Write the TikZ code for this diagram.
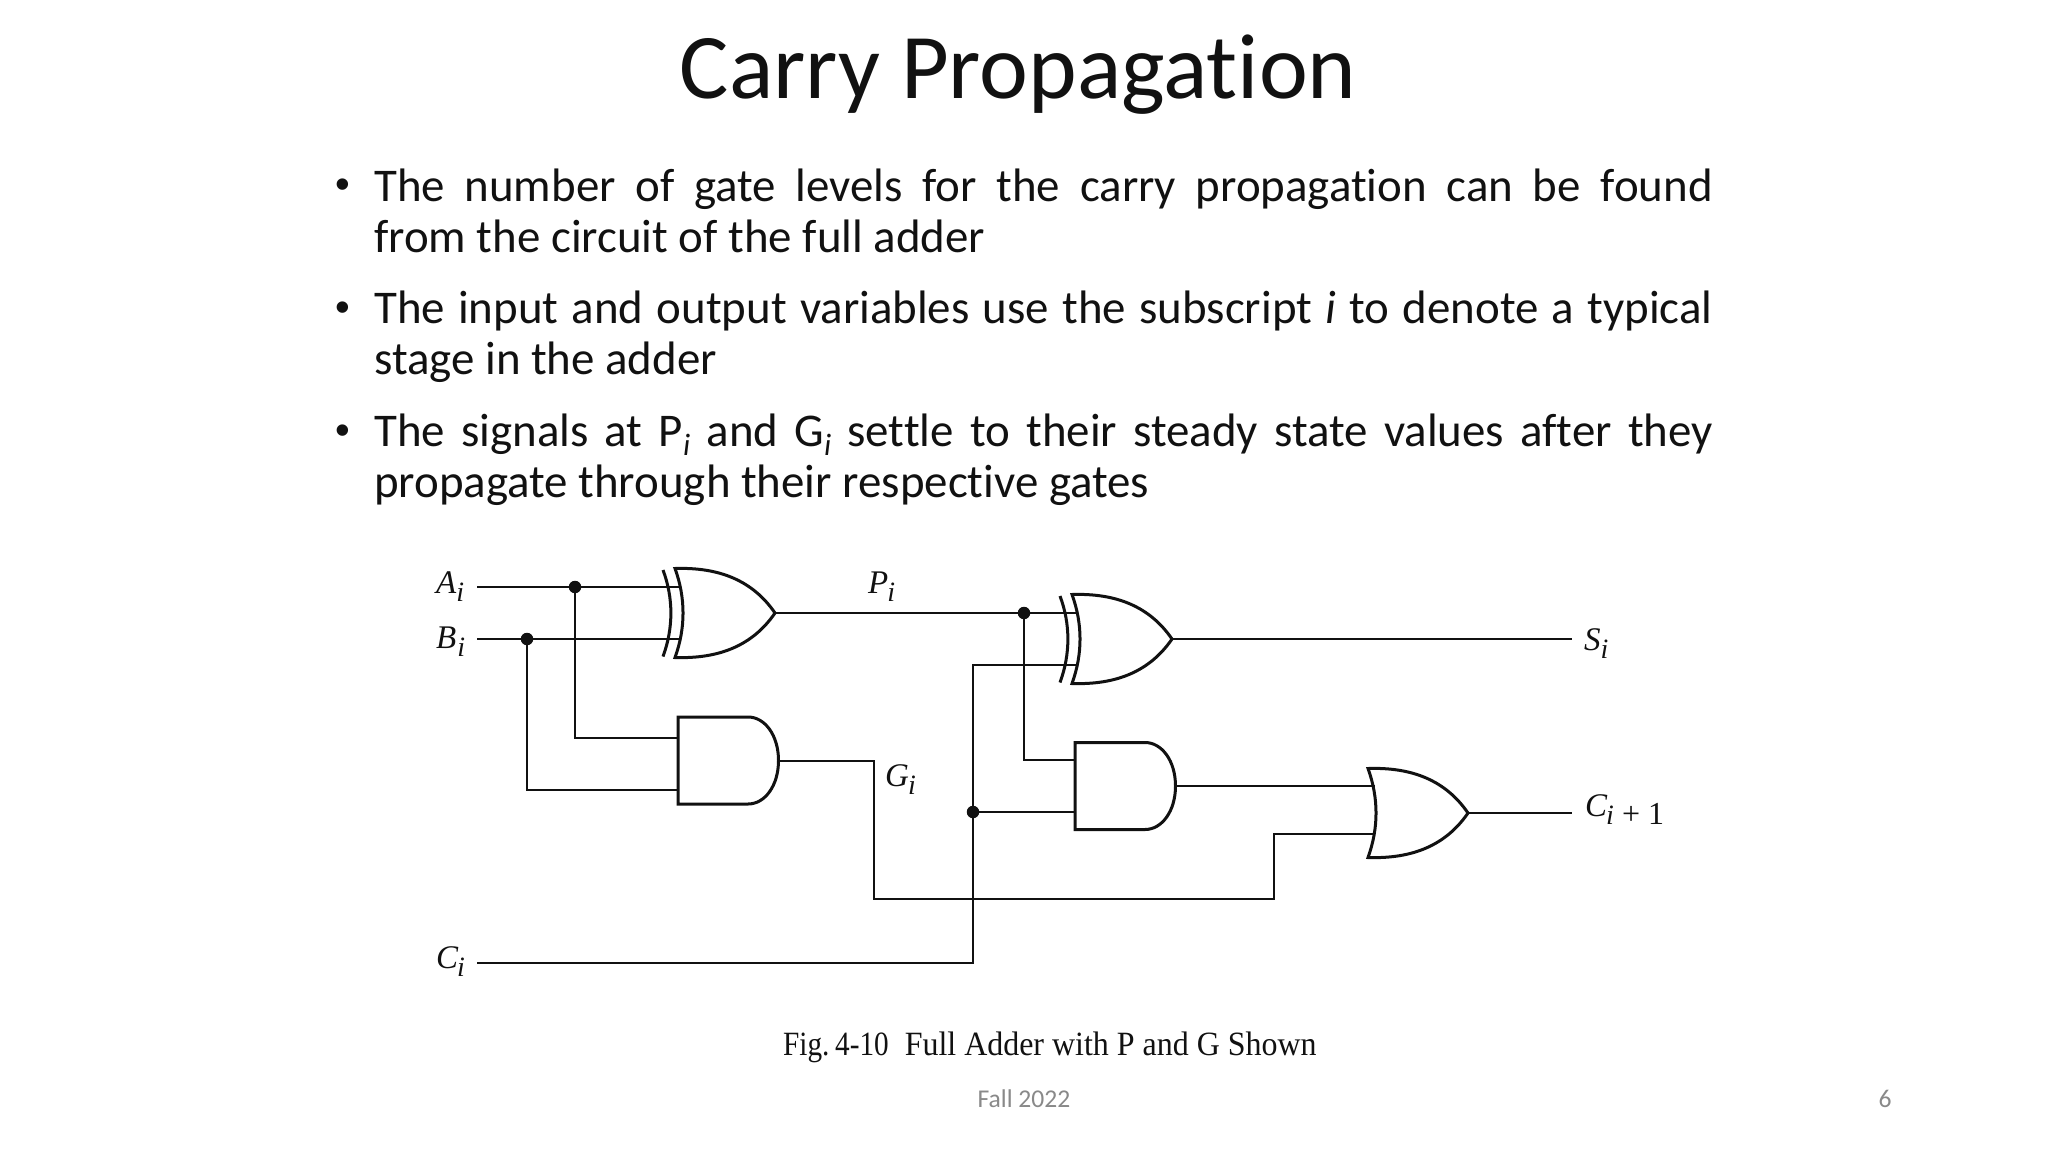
\documentclass[tikz,border=0pt]{standalone}
\usepackage{fontspec}
\setmainfont[Ligatures=CommonOff]{Carlito}
\newfontfamily\figfont{Liberation Serif}
\newfontfamily\capfont[FakeStretch=0.94]{Liberation Serif}
\newfontfamily\capnarrow[FakeStretch=0.86]{Liberation Serif}
\newfontfamily\bulfont{Liberation Sans}
\newcommand{\fsz}[1]{\fontsize{#1}{#1}\selectfont}
\newcommand{\lab}[3][0pt]{{\figfont\fsz{33}\itshape #2\kern#1\raisebox{-8pt}{\fsz{28}#3}}}
\newcommand{\sbi}{\raisebox{-9pt}{\fsz{31}\itshape i}}
\definecolor{ink}{HTML}{111111}
\definecolor{foot}{HTML}{898989}
\tikzset{
  x=1pt,y=-1pt,
  wire/.style={draw=ink,line width=2pt},
  gateline/.style={draw=ink,line width=3pt,line join=miter,fill=white},
  juncdot/.style={circle,fill=ink,draw=none,minimum size=12.5pt,inner sep=0pt},
  bodytext/.style={anchor=north west,inner sep=0pt,text width=1338.5pt,align=justify,font=\fsz{46.9}\setlength{\baselineskip}{51pt},text=ink},
  bulletmark/.style={anchor=base,inner sep=0pt,font=\bulfont\fsz{42},text=ink},
  sigtext/.style={anchor=base west,inner sep=0pt,text=ink},
  footer/.style={anchor=center,inner sep=0pt,font=\fsz{25.6},text=foot},
  orshape/.pic={
    \path[gateline] (0,-44.5) .. controls (45,-46) and (78,-32) .. (100,0)
       .. controls (78,32) and (45,46) .. (0,44.5)
       .. controls (10.7,15) and (10.7,-15) .. cycle;
    \coordinate (-o) at (100,0);
  },
  xorshape/.pic={
    \path[gateline] (0,-44.5) .. controls (45,-46) and (78,-32) .. (100,0)
       .. controls (78,32) and (45,46) .. (0,44.5)
       .. controls (10.7,15) and (10.7,-15) .. cycle;
    \draw[ink,line width=3pt] (-12,-43) .. controls (-1.5,-15) and (-1.5,15) .. (-12,43.5);
    \coordinate (-a) at (5,-26);
    \coordinate (-b) at (5,26);
    \coordinate (-o) at (100,0);
  },
  andshape/.pic={
    \path[gateline] (0,-43.5) -- (70,-43.5) .. controls (87,-43.5) and (100.5,-25) .. (100.5,0)
       .. controls (100.5,25) and (87,43.5) .. (70,43.5) -- (0,43.5) -- cycle;
    \coordinate (-o) at (100.5,0);
  },
}
\begin{document}
\begin{tikzpicture}
\path[use as bounding box,fill=white] (0,0) rectangle (2048,1152);

% Slide text
\node[anchor=base,inner sep=0pt,font=\fsz{92.5},text=ink] (title) at (1018,98) {Carry Propagation};
\node[bulletmark] (b1) at (343,198) {•};
\node[bodytext] (p1) at (374,169) {The number of gate levels for the carry propagation can be found\linebreak from the circuit of the full adder};
\node[bulletmark] (b2) at (343,321) {•};
\node[bodytext] (p2) at (374,291) {The input and output variables use the subscript \textit{i} to denote a typical\linebreak stage in the adder};
\node[bulletmark] (b3) at (343,444) {•};
\node[bodytext] (p3) at (374,414) {The signals at P\sbi{} and G\sbi{} settle to their steady state values after they\linebreak propagate through their respective gates};

% Gates (pins are named coordinates)
\pic (xorA) at (675,613) {xorshape};
\pic (andA) at (678,760.5) {andshape};
\pic (xorB) at (1072,639) {xorshape};
\pic (andB) at (1075,786) {andshape};
\pic (orC)  at (1368,813) {orshape};
\coordinate (andA-a) at (678,738);
\coordinate (andA-b) at (678,790);
\coordinate (andB-a) at (1075,760);
\coordinate (andB-b) at (1075,812);
\coordinate (orC-a) at (1375,786);
\coordinate (orC-b) at (1375,834);

% Signal ends and corners
\coordinate (inA) at (477,587);
\coordinate (inB) at (477,639);
\coordinate (inC) at (477,963);
\coordinate (outS) at (1572,639);
\coordinate (outC) at (1572,813);
\node[juncdot] (dA) at (575,587) {};
\node[juncdot] (dB) at (527,639) {};
\node[juncdot] (dP) at (1024,613) {};
\node[juncdot] (dC) at (973,812) {};
\coordinate (gi1) at (874,760.5);
\coordinate (gi2) at (874,899);
\coordinate (gi3) at (1274,899);
\coordinate (ci1) at (973,963);
\coordinate (ci2) at (973,665);

% Wires
\draw[wire] (inA) -- (dA.center) -- (xorA-a);
\draw[wire] (inB) -- (dB.center) -- (xorA-b);
\draw[wire] (dA.center) |- (andA-a);
\draw[wire] (dB.center) |- (andA-b);
\draw[wire] (xorA-o) -- (dP.center) -- (xorB-a);
\draw[wire] (dP.center) |- (andB-a);
\draw[wire] (inC) -- (ci1) -- (dC.center) -- (ci2) -- (xorB-b);
\draw[wire] (dC.center) -- (andB-b);
\draw[wire] (andA-o) -- (gi1) -- (gi2) -- (gi3) |- (orC-b);
\draw[wire] (andB-o) -- (orC-a);
\draw[wire] (xorB-o) -- (outS);
\draw[wire] (orC-o) -- (outC);

% Signal labels
\node[sigtext] (lA) at (436,593) {\lab{A}{i}};
\node[sigtext] (lB) at (436,648) {\lab[1pt]{B}{i}};
\node[sigtext] (lC) at (436,968) {\lab[-1pt]{C}{i}};
\node[sigtext] (lP) at (868,593) {\lab[-1pt]{P}{i}};
\node[sigtext] (lG) at (885,786) {\lab[-1pt]{G}{i}};
\node[sigtext] (lS) at (1584,650) {\lab{S}{i}};
\node[sigtext] (lCn) at (1585,816) {\lab[-1pt]{C}{i}{\figfont\fsz{32}\raisebox{-8pt}{\hspace{8pt}+\hspace{8pt}1}}};

% Caption and footer
\node[anchor=base west,inner sep=0pt,text=ink] (cap) at (783,1055) {\fsz{34}{\capnarrow Fig.\,4-10}\hspace{16pt}{\capfont Full Adder with P and G Shown}};
\node[footer] (f1) at (1024,1099) {Fall 2022};
\node[footer] (f2) at (1885,1099) {6};
\end{tikzpicture}
\end{document}
